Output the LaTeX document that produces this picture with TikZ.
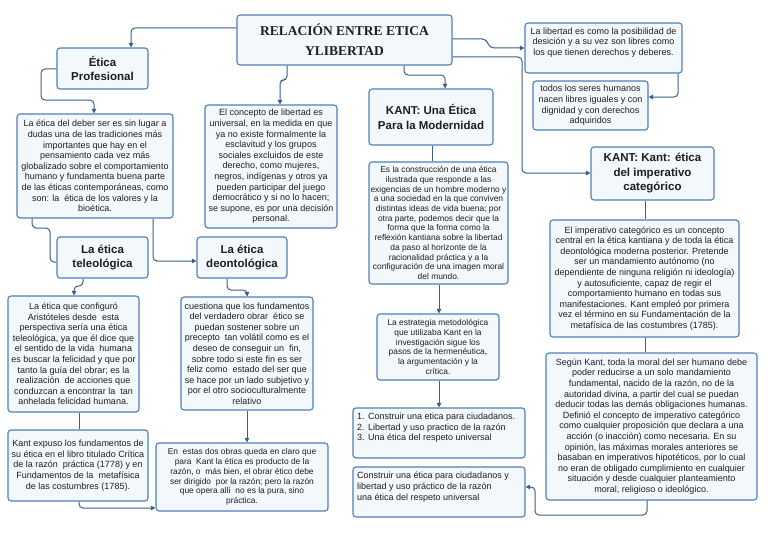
\documentclass[tikz,border=0pt]{standalone}
\usepackage{fontspec}
\setmainfont{Liberation Sans}
\newfontfamily\titlefont{Liberation Serif}
\usetikzlibrary{arrows.meta}
\definecolor{boxc}{HTML}{4F7FB8}
\definecolor{fillc}{HTML}{F3F8FD}
\definecolor{linec}{HTML}{3D5E88}
\definecolor{txtc}{HTML}{1E1E1E}
\tikzset{
  box/.style={draw=boxc, fill=fillc, line width=1.1pt, rounded corners=3pt, inner sep=0pt, text=txtc},
  body/.style={font=\fontsize{9}{10.6}\selectfont, align=center, text=txtc, inner sep=0pt},
  smallbody/.style={font=\fontsize{8.4}{9.7}\selectfont, align=center, text=txtc, inner sep=0pt},
  head/.style={font=\bfseries\fontsize{11.5}{14.5}\selectfont, align=center},
  conn/.style={draw=linec, line width=1pt, rounded corners=4pt},
  arr/.style={conn, -{Triangle[length=4.5pt,width=4.5pt]}},
}
\begin{document}
\begin{tikzpicture}[x=1pt,y=-1pt]
\useasboundingbox[fill=white] (0,0) rectangle (768,543);

% title
\node[box, font=\titlefont\bfseries\fontsize{13.5}{20}\selectfont, align=center, minimum width=215pt, minimum height=50pt] (title) at (344.5,40) {RELACIÓN ENTRE ETICA\\YLIBERTAD};

% left column
\node[box, head, minimum width=91pt, minimum height=41pt] (prof) at (102.5,68.5) {Ética\\Profesional};
\node[box, body, minimum width=156pt, minimum height=104pt] (etxt) at (95,166) {La ética del deber ser es sin lugar a\\ dudas una de las tradiciones más\\ importantes que hay en el\\ pensamiento cada vez más\\ globalizado sobre el comportamiento\\ humano y fundamenta buena parte\\ de las éticas contemporáneas, como\\ son: la \ ética de los valores y la\\ bioética.};
\node[box, head, minimum width=91pt, minimum height=41pt] (teleo) at (102.5,257.5) {La ética\\teleológica};
\node[box, head, minimum width=90pt, minimum height=41pt] (deon) at (242,257.5) {La ética\\deontológica};
\node[box, body, minimum width=131pt, minimum height=116pt] (teletxt) at (73.5,354) {La ética que configuró\\ Aristóteles desde \ esta\\ perspectiva sería una ética\\ teleológica, ya que él dice que\\ el sentido de la vida \ humana\\ es buscar la felicidad y que por\\ tanto la guía del obrar; es la\\ realización \ de acciones que\\ conduzcan a encontrar la \ tan\\ anhelada felicidad humana.};
\node[box, body, minimum width=132pt, minimum height=113pt] (deontxt) at (247,353.5) {cuestiona que los fundamentos\\ del verdadero obrar \ ético se\\ puedan sostener sobre un\\ precepto \ tan volátil como es el\\ deseo de conseguir un \ fin,\\ sobre todo si este fin es ser\\ feliz como \ estado del ser que\\ se hace por un lado subjetivo y\\ por el otro socioculturalmente\\ relativo};
\node[box, body, minimum width=140pt, minimum height=71pt] (kexp) at (78,465.5) {Kant expuso los fundamentos de\\ su ética en el libro titulado Crítica\\ de la razón \ práctica (1778) y en\\ Fundamentos de la \ metafísica\\ de las costumbres (1785).};
\node[box, smallbody, minimum width=172pt, minimum height=68pt] (enestas) at (242,477) {En \ estas dos obras queda en claro que\\ para \ Kant la ética es producto de la\\ razón, o \ más bien, el obrar ético debe\\ ser dirigido \ por la razón; pero la razón\\ que opera allí \ no es la pura, sino\\ práctica.};

% middle
\node[box, body, minimum width=132pt, minimum height=123pt] (concept) at (271,166.5) {El concepto de libertad es\\ universal, en la medida en que\\ ya no existe formalmente la\\ esclavitud y los grupos\\ sociales excluidos de este\\ derecho, como mujeres,\\ negros, indígenas y otros ya\\ pueden participar del juego\\ democrático y si no lo hacen;\\ se supone, es por una decisión\\ personal.};
\node[box, head, minimum width=124pt, minimum height=56pt] (kuna) at (431,117) {KANT: Una Ética\\Para la Modernidad};
\node[box, smallbody, minimum width=139pt, minimum height=122pt] (kunatxt) at (438.5,223) {Es la construcción de una ética\\ ilustrada que responde a las\\ exigencias de un hombre moderno y\\ a una sociedad en la que conviven\\ distintas ideas de vida buena; por\\ otra parte, podemos decir que la\\ forma que la forma como la\\ reflexión kantiana sobre la libertad\\ da paso al horizonte de la\\ racionalidad práctica y a la\\ configuración de una imagen moral\\ del mundo.};
\node[box, smallbody, minimum width=122pt, minimum height=66pt] (estr) at (438,347) {La estrategia metodológica\\ que utilizaba Kant en la\\ investigación sigue los\\ pasos de la hermenéutica,\\ la argumentación y la\\ crítica.};
\node[box, minimum width=172pt, minimum height=50pt] (list1) at (439,433) {};
\node[body, align=left, anchor=north west] (list1t) at (357,413) {1. Construir una etica para ciudadanos.\\ 2. Libertad y uso practico de la razón\\ 3. Una ética del respeto universal};
\node[box, minimum width=172pt, minimum height=50pt] (list2) at (439,492) {};
\node[body, align=left, anchor=north west] (list2t) at (357,472) {Construir una ética para ciudadanos y\\ libertad y uso práctico de la razón\\ una ética del respeto universal};

% right
\node[box, minimum width=157pt, minimum height=50pt] (libertad) at (603.5,48) {};
\node[body, anchor=north] (libt) at (603.5,27.5) {La libertad es como la posibilidad de\\ desición y a su vez son libres como\\ los que tienen derechos y deberes.};
\node[box, body, minimum width=115pt, minimum height=49pt] (todos) at (590.5,105.5) {todos los seres humanos\\ nacen libres iguales y con\\ dignidad y con derechos\\ adquiridos};
\node[box, head, minimum width=123pt, minimum height=53pt] (kkant) at (652.5,173.5) {KANT: Kant: ética\\del imperativo\\categórico};
\node[box, body, minimum width=189pt, minimum height=117pt] (imptxt) at (644.5,278.5) {El imperativo categórico es un concepto\\ central en la ética kantiana y de toda la ética\\ deontológica moderna posterior. Pretende\\ ser un mandamiento autónomo (no\\ dependiente de ninguna religión ni ideología)\\ y autosuficiente, capaz de regir el\\ comportamiento humano en todas sus\\ manifestaciones. Kant empleó por primera\\ vez el término en su Fundamentación de la\\ metafísica de las costumbres (1785).};
\node[box, body, minimum width=211pt, minimum height=147pt] (segun) at (651.5,426.5) {Según Kant, toda la moral del ser humano debe\\ poder reducirse a un solo mandamiento\\ fundamental, nacido de la razón, no de la\\ autoridad divina, a partir del cual se puedan\\ deducir todas las demás obligaciones humanas.\\ Definió el concepto de imperativo categórico\\ como cualquier proposición que declara a una\\ acción (o inacción) como necesaria. En su\\ opinión, las máximas morales anteriores se\\ basaban en imperativos hipotéticos, por lo cual\\ no eran de obligado cumplimiento en cualquier\\ situación y desde cualquier planteamiento\\ moral, religioso o ideológico.};

% connectors
\draw[arr] (title.west |- 0,28) -| (131,0 |- prof.north);
\draw[arr] (prof.west |- 0,69) -- (41,69) -- (41,100) -- (94,100) -- (94,0 |- etxt.north);
\draw[conn] (32,0 |- etxt.south) -- (32,228) -- (50,228) -- (50,262) -- (teleo.west |- 0,262);
\draw[arr] (153,0 |- etxt.south) |- (deon.west |- 0,261);
\draw[arr] (83,0 |- teleo.south) -- (83,286) -- (74,286) -- (74,0 |- teletxt.north);
\draw[arr] (227,0 |- deon.south) -- (227,290) -- (247,290) -- (247,0 |- deontxt.north);
\draw[conn] (79,0 |- teletxt.south) -- (79,0 |- kexp.north);
\draw[arr] (79,0 |- kexp.south) |- (enestas.west |- 0,508);
\draw[arr] (247,0 |- deontxt.south) -- (247,0 |- enestas.north);
\draw[arr] (287,0 |- title.south) -- (287,80) -- (280,80) -- (280,0 |- concept.north);
\draw[arr] (404,0 |- title.south) -- (404,75) -- (445,75) -- (445,0 |- kuna.north);
\draw[conn] (432,0 |- kuna.south) -- (432,0 |- kunatxt.north);
\draw[arr] (439,0 |- kunatxt.south) -- (439,0 |- estr.north);
\draw[arr] (439,0 |- estr.south) -- (439,0 |- list1.north);
\draw[arr] (title.east |- 0,39) -- (486,39) -- (490,48) -- (libertad.west |- 0,48);
\draw[arr] (title.east |- 0,57) -- (522,57) -- (522,173) -- (kkant.west |- 0,173);
\draw[arr] (678,0 |- libertad.south) |- (todos.east |- 0,97);
\draw[conn] (645,0 |- kkant.south) -- (645,0 |- imptxt.north);
\draw[conn] (645,0 |- imptxt.south) -- (645,0 |- segun.north);
\draw[arr] (647,0 |- segun.south) -- (647,515) -- (535,515) -- (535,487) -- (list2.east |- 0,487);
\end{tikzpicture}
\end{document}
